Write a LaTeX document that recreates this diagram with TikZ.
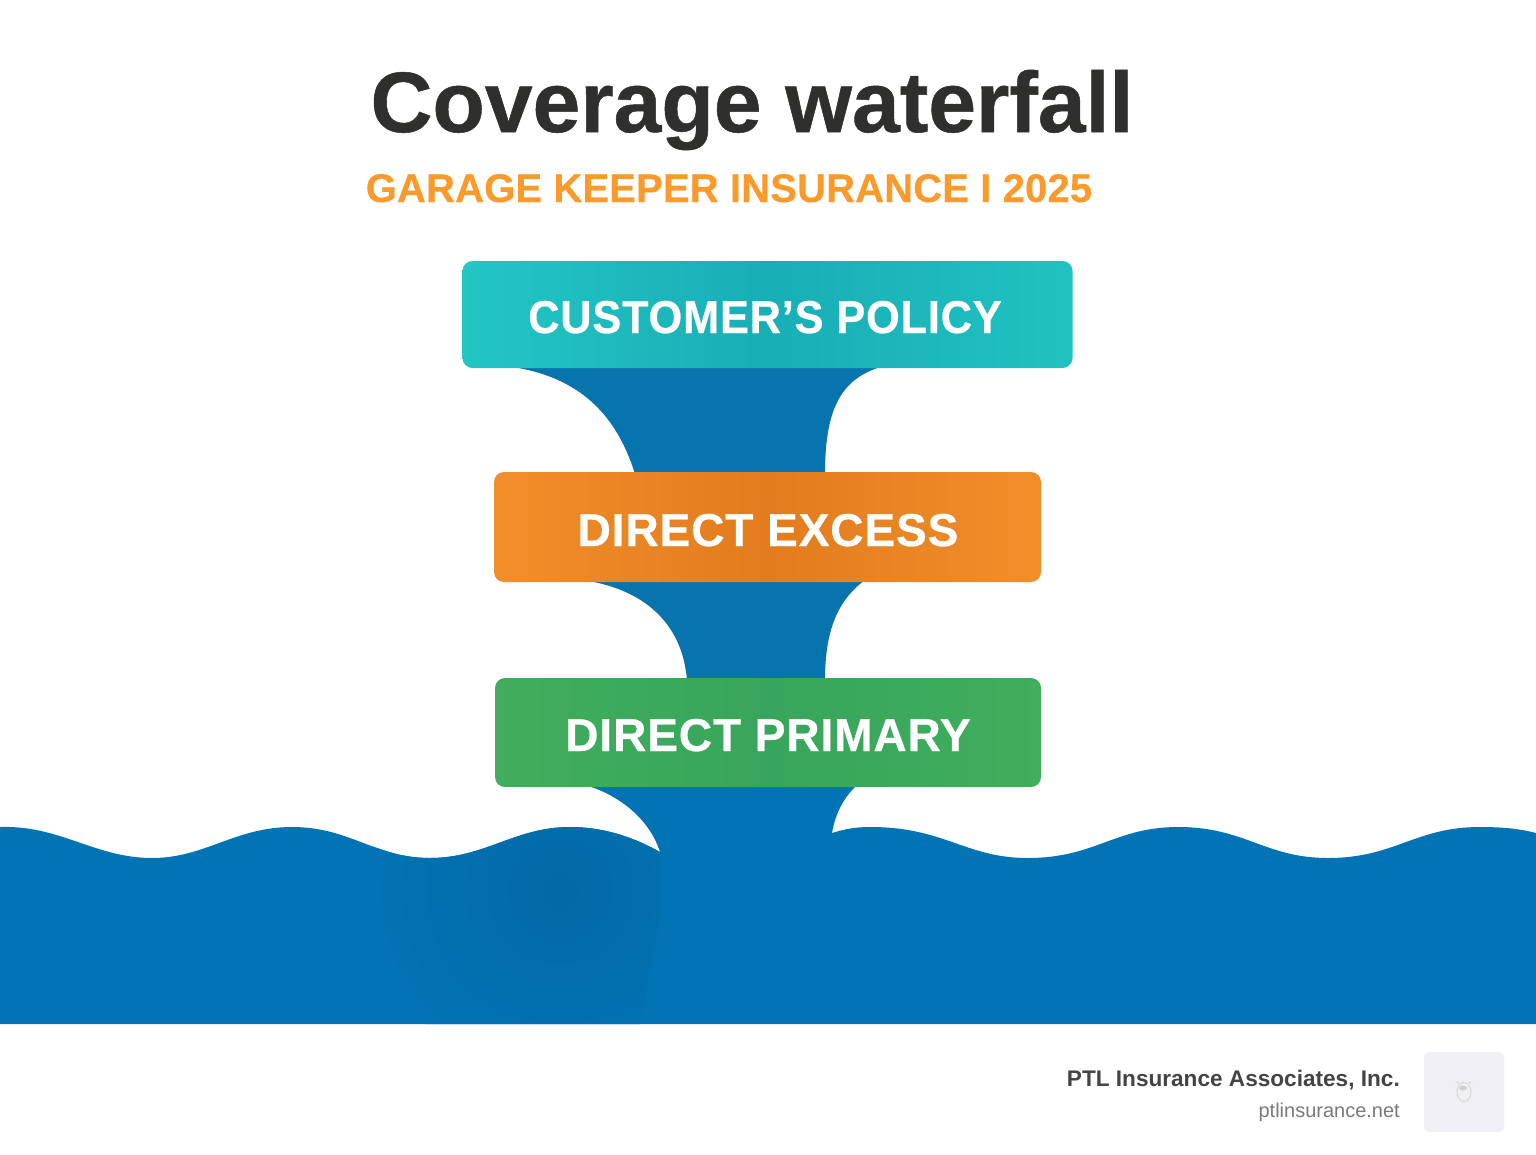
\documentclass[tikz,border=0pt]{standalone}
\usepackage{fontspec}
\setmainfont{Liberation Sans}
\newfontfamily\ttl[BoldFeatures={FakeBold=0.6}]{Liberation Sans}
\newfontfamily\subf[LetterSpace=0.4,BoldFeatures={FakeBold=0.3}]{Liberation Sans}
\newfontfamily\boxf[LetterSpace=2,BoldFeatures={FakeBold=0.6}]{Liberation Sans}
\usetikzlibrary{calc}
\definecolor{ink}{HTML}{2F302D}
\definecolor{subor}{HTML}{F99A2A}
\definecolor{wtr}{HTML}{0273B5}
\definecolor{wtrd}{HTML}{026AA6}
\definecolor{fun}{HTML}{0874AE}
\tikzset{
 boxs/.style={rounded corners=10pt,line width=0pt,inner sep=0pt},
 lab/.style={font=\boxf\bfseries\fontsize{46}{50}\selectfont,text=white,inner sep=0pt,anchor=base},
 water/.style={fill=wtr,draw=none},
 funnel/.style={fill=fun,draw=none}
}
\begin{document}
\begin{tikzpicture}[x=1pt,y=-1pt]
\useasboundingbox (0,0) rectangle (1536,1154);
\fill[white] (0,0) rectangle (1536,1154);
% title
\node[font=\ttl\bfseries\fontsize{85.8}{90}\selectfont,text=ink,inner sep=0pt,anchor=base] (title) at (752,132) {Coverage waterfall};
\node[font=\subf\bfseries\fontsize{40}{44}\selectfont,text=subor,inner sep=0pt,anchor=base] (subtitle) at (729,202) {GARAGE KEEPER INSURANCE I 2025};
% water
\path[water] (0,827) .. controls (60,825) and (95,858) .. (152,858)
 .. controls (205,858) and (235,827) .. (292,827)
 .. controls (350,827) and (375,858) .. (430,858)
 .. controls (485,858) and (515,827) .. (570,827)
 .. controls (605,827) and (635,838) .. (660,852)
 -- (832,833)
 .. controls (845,829) and (855,827) .. (870,827)
 .. controls (945,827) and (965,858) .. (1028,858)
 .. controls (1095,858) and (1115,827) .. (1178,827)
 .. controls (1245,827) and (1265,858) .. (1328,858)
 .. controls (1395,858) and (1415,827) .. (1480,827)
 .. controls (1505,827) and (1520,829) .. (1536,833)
 -- (1536,1024) -- (0,1024) -- cycle;
\begin{scope}
\clip (300,827) -- (570,827)
 .. controls (605,827) and (635,838) .. (660,852)
 .. controls (664,880) and (664,900) .. (656,940) -- (640,1024) -- (300,1024) -- cycle
 (0,0) (0,0);
\clip (0,827) .. controls (60,825) and (95,858) .. (152,858)
 .. controls (205,858) and (235,827) .. (292,827)
 .. controls (350,827) and (375,858) .. (430,858)
 .. controls (485,858) and (515,827) .. (570,827)
 .. controls (605,827) and (635,838) .. (660,852)
 -- (660,1024) -- (0,1024) -- cycle;
\shade[inner color=wtrd,outer color=wtr] (560,890) circle (190pt);
\end{scope}
% funnels
\path[funnel] (506,366) .. controls (575,375) and (615,410) .. (635,474) -- (825,474)
 .. controls (825,410) and (840,378) .. (884,366) -- cycle;
\path[funnel] (582,580) .. controls (640,588) and (682,620) .. (687,680) -- (825,680)
 .. controls (825,630) and (838,600) .. (865,580) -- cycle;
\path[funnel,fill=wtr] (585,785) .. controls (620,795) and (650,820) .. (660,852)
 -- (660,870) -- (832,870) -- (832,833)
 .. controls (835,815) and (843,798) .. (857,785) -- cycle;
% boxes
\node[boxs,minimum width=610pt,minimum height=107pt,
 left color={rgb,255:red,35;green,198;blue,196},right color={rgb,255:red,32;green,194;blue,192},middle color={rgb,255:red,24;green,174;blue,182}] (cust) at (767.5,314.5) {};
\node[boxs,minimum width=547pt,minimum height=110pt,
 left color={rgb,255:red,240;green,143;blue,42},right color={rgb,255:red,240;green,143;blue,42},middle color={rgb,255:red,226;green,124;blue,30}] (excess) at (767.5,527) {};
\node[boxs,minimum width=546pt,minimum height=109pt,
 left color={rgb,255:red,64;green,174;blue,92},right color={rgb,255:red,64;green,174;blue,92},middle color={rgb,255:red,56;green,165;blue,92}] (prim) at (768,732.5) {};
\node[lab] (custl) at (765,333) {\scalebox{0.94}[1]{CUSTOMER’S POLICY}};
\node[lab] (excessl) at (768,546) {DIRECT EXCESS};
\node[lab] (priml) at (768,751) {DIRECT PRIMARY};
% footer
\node[font=\bfseries\fontsize{22.6}{28}\selectfont,text=ink!90,inner sep=0pt,anchor=base east] (co) at (1400,1086) {PTL Insurance Associates, Inc.};
\node[font=\fontsize{20}{24}\selectfont,text=black!52,inner sep=0pt,anchor=base east] (web) at (1400,1117) {ptlinsurance.net};
\node[rounded corners=5pt,fill={rgb,255:red,239;green,239;blue,244},minimum width=80pt,minimum height=80pt,inner sep=0pt] (logo) at (1464,1092) {};
\draw[black!15,line width=1pt] (1464,1092) ellipse (7pt and 9.5pt);
\fill[black!18] (1463,1088) ellipse (4pt and 2.5pt);
\fill[black!15] (1458,1082.5) circle (1.4pt) (1470,1082.5) circle (1.4pt);
\fill[black!8] (1452,1083) circle (0.8pt) (1476,1083) circle (0.8pt);
\end{tikzpicture}
\end{document}
